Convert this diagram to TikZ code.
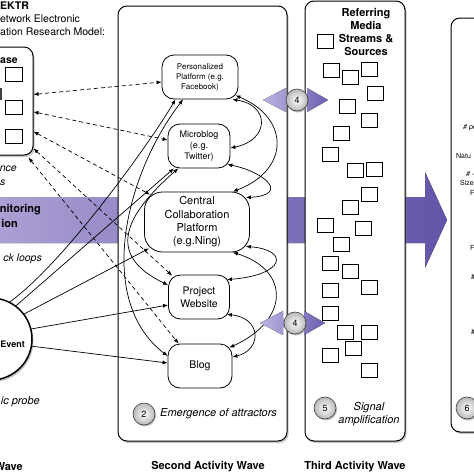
\documentclass[tikz,border=0pt]{standalone}
\usepackage{fontspec}
\setmainfont{TeX Gyre Heros}
\usetikzlibrary{
    arrows.meta,
    calc,
    shadows
}
\definecolor{bandlight}{RGB}{172,160,212}
\definecolor{banddark}{RGB}{98,84,168}
\definecolor{arrowlight}{RGB}{190,180,225}
\definecolor{arrowdark}{RGB}{108,94,176}

\begin{document}
\begin{tikzpicture}[x=1pt, y=-1pt,
        wavebox/.style={draw, line width=1pt, rounded corners=9pt, fill=white, drop shadow={shadow xshift=1.5pt, shadow yshift=-2pt, opacity=0.45}},
        att/.style={draw, line width=0.8pt, rounded corners=12pt, fill=white, align=center, inner sep=2pt},
        sq/.style={draw, line width=0.7pt, fill=white, minimum width=16pt, minimum height=14pt, inner sep=0pt},
        num/.style={circle, draw=black!75, line width=0.6pt, inner color=white, outer color=black!28, minimum size=22pt, inner sep=0pt, font=\fontsize{9}{9}\selectfont, drop shadow={shadow xshift=1pt, shadow yshift=-1.5pt, opacity=0.5}},
        lbl/.style={inner sep=0pt, font=\fontsize{10.5}{13}\selectfont},
        arrow/.style={-{Latex[length=5pt,width=4pt]}, line width=0.7pt},
        twoway/.style={{Latex[length=5pt,width=4pt]}-{Latex[length=5pt,width=4pt]}, line width=0.7pt},
        probe/.style={twoway, dash pattern=on 4pt off 3pt}
    ]
        \useasboundingbox (0,0) rectangle (474,474);

        % monitoring band
        \fill[left color=bandlight, right color=banddark] (-5,197) -- (425,197) -- (425,172) -- (447,220) -- (425,268) -- (425,243) -- (-5,243) -- cycle;
        \node[lbl, anchor=east, font=\bfseries\fontsize{11}{13}\selectfont] (bandtxt1) at (41,210) {nitoring};
        \node[lbl, anchor=east, font=\bfseries\fontsize{11}{13}\selectfont] (bandtxt2) at (18,223) {ion};

        % title
        \node[lbl, anchor=west, font=\bfseries\fontsize{10.5}{13}\selectfont] (title1) at (0,6) {EKTR};
        \node[lbl, anchor=west] (title2) at (0,18.5) {etwork Electronic};
        \node[lbl, anchor=west] (title3) at (0,32) {ation Research Model:};

        % wave boxes
        \node[wavebox, minimum width=53pt, minimum height=108pt] (lbox) at (6.5,101) {};
        \node[wavebox, minimum width=169pt, minimum height=435pt] (second) at (202.5,223.5) {};
        \node[wavebox, minimum width=100pt, minimum height=440pt] (third) at (355,221) {};
        \node[wavebox, minimum width=39pt, minimum height=414pt] (sixth) at (470.5,225) {};

        % first wave (cut off)
        \node[lbl, anchor=west, font=\bfseries\fontsize{10.5}{13}\selectfont] (lboxtxt) at (0,61) {ase};
        \fill[black!75] (-5,88) rectangle (2,100);
        \node[sq, minimum width=17pt] (lsq1) at (13.5,74) {};
        \node[sq, minimum width=17pt] (lsq2) at (13.5,107) {};
        \node[sq, minimum width=17pt] (lsq3) at (13.5,136) {};
        \node[lbl, anchor=east, font=\itshape\fontsize{10.5}{13}\selectfont] (inftxt1) at (17,169) {ence};
        \node[lbl, anchor=east, font=\itshape\fontsize{10.5}{13}\selectfont] (inftxt2) at (5.5,183) {s};
        \node[lbl, anchor=east, font=\itshape\fontsize{10.5}{13}\selectfont] (looptxt) at (42,259) {ck loops};
        \node[lbl, anchor=east, font=\itshape\fontsize{11}{13}\selectfont] (probetxt) at (40,402) {ic probe};
        \node[circle, draw, line width=1.5pt, fill=white, minimum size=82pt, drop shadow={shadow xshift=1.5pt, shadow yshift=-2pt, opacity=0.45}] (event) at (-9,339) {};
        \node[lbl, anchor=east, font=\bfseries\fontsize{9}{9}\selectfont] (eventtxt) at (25,344) {Event};

        % attractors
        \node[att, minimum width=76pt, minimum height=44pt, font=\fontsize{8}{10}\selectfont] (pers) at (200,77) {Personalized\\Platform (e.g.\\Facebook)};
        \node[att, minimum width=62pt, minimum height=44pt, font=\fontsize{9}{11}\selectfont] (micro) at (199,146) {Microblog\\(e.g.\\Twitter)};
        \node[att, rounded corners=18pt, minimum width=105pt, minimum height=60pt, font=\fontsize{11}{13.3}\selectfont] (central) at (197,222) {Central\\Collaboration\\Platform\\(e.g.Ning)};
        \node[att, minimum width=61pt, minimum height=44pt, font=\fontsize{10.5}{13}\selectfont] (proj) at (199,297) {Project\\Website};
        \node[att, minimum width=64pt, minimum height=44pt, font=\fontsize{10.5}{13}\selectfont] (blog) at (200,366) {Blog};

        % referring media
        \node[align=center, font=\bfseries\fontsize{11}{12.7}\selectfont] (refer) at (366,32) {Referring\\Media\\Streams \&\\Sources};
        \foreach \x/\y [count=\i] in {325/41, 331/70, 350/77, 369/69, 375/93, 347/106, 369/120, 341/133, 330/154, 355/170, 374/169, 369/194, 350/207, 325/225, 363/228, 341/244, 330/263, 350/271, 369/287, 330/290, 330/313, 345/332, 369/332, 353/348, 330/355, 369/370}
            \node[sq] (src\i) at (\x,\y) {};

        % outcome box (cut off)
        \node[lbl, anchor=west, font=\itshape\fontsize{7}{8}\selectfont] (out1) at (463,128) {\# pe};
        \node[lbl, anchor=west, font=\fontsize{7}{8}\selectfont] (out2) at (456,156) {Natu};
        \node[lbl, anchor=west, font=\itshape\fontsize{7}{8}\selectfont] (out3) at (466,174) {\# -};
        \node[lbl, anchor=west, font=\fontsize{7}{8}\selectfont] (out4) at (460,183) {Size-};
        \node[lbl, anchor=west, font=\fontsize{7}{8}\selectfont] (out5) at (470,193) {F};
        \node[lbl, anchor=west, font=\fontsize{7}{8}\selectfont] (out6) at (470,248) {F};
        \node[lbl, anchor=west, font=\fontsize{7}{8}\selectfont] (out7) at (471,277) {\#};
        \node[lbl, anchor=west, font=\fontsize{7}{8}\selectfont] (out8) at (471,332) {\#};

        % probes from first wave
        \coordinate (p1) at ($(lbox.north east)!0.44!(lbox.south east)$);
        \coordinate (p2) at ($(lbox.north east)!0.60!(lbox.south east)$);
        \coordinate (p3) at ($(lbox.north east)!0.78!(lbox.south east)$);
        \coordinate (p4) at ($(lbox.north east)!0.935!(lbox.south east)$);
        \coordinate (p5) at ($(lbox.south east)+(-5,2)$);
        \draw[probe] (p1) -- ([yshift=-5pt]pers.west);
        \draw[probe] (p2) -- ([yshift=6pt]micro.west);
        \draw[probe] (p3) -- ($(central.north west)+(6,3)$);
        \draw[probe] (p4) -- ($(proj.north west)+(4,1)$);
        \draw[probe] (p5) -- ($(blog.north west)+(11,0)$);

        % event to attractors
        \draw[arrow] (event.63) .. controls (65,262) and (152,140) .. ($(pers.south west)!0.18!(pers.south east)$);
        \draw[arrow] (event.53) -- ($(micro.south west)!0.1!(micro.south east)$);
        \draw[arrow] (event.37) -- ($(central.south west)+(5,-4)$);
        \draw[arrow] (event.14) -- ([yshift=-8pt]proj.west);
        \draw[arrow] (event.-10) -- ([yshift=3pt]blog.west);

        % links between attractors, left side
        \draw[twoway] ($(micro.south west)!0.17!(micro.south east)$) .. controls (125,215) and (105,255) .. ([yshift=12pt]proj.west);
        \draw[twoway] ($(pers.south west)!0.28!(pers.south east)$) .. controls (125,175) and (95,300) .. ([yshift=10pt]blog.west);

        % links between attractors, right side
        \draw[twoway] ($(pers.south east)+(-6,0)$) .. controls (270,105) and (270,140) .. ([yshift=-2pt]micro.east);
        \draw[twoway] ($(pers.south east)+(-3,-4)$) .. controls (290,118) and (290,170) .. ($(central.north east)+(-17,0)$);
        \draw[twoway] ($(micro.south east)+(-3,-4)$) .. controls (265,172) and (290,195) .. ($(central.north east)+(-4,6)$);
        \draw[twoway] ($(central.south east)+(-4,-6)$) .. controls (290,250) and (285,275) .. ($(proj.north east)+(-3,5)$);
        \draw[twoway] ($(central.south east)+(-17,0)$) .. controls (290,270) and (290,320) .. ($(blog.north east)+(-3,4)$);
        \draw[twoway] ($(proj.south east)+(-3,-5)$) .. controls (262,318) and (262,350) .. ([yshift=9pt]blog.east);

        % exchange between second and third wave
        \fill[left color=arrowlight, right color=arrowdark] (263,100) -- (286,88) -- (286,96) -- (307,96) -- (307,88) -- (328,100) -- (307,112) -- (307,104) -- (286,104) -- (286,112) -- cycle;
        \fill[left color=arrowlight, right color=arrowdark] (260,323) -- (283,311) -- (283,319) -- (304,319) -- (304,311) -- (325,323) -- (304,335) -- (304,327) -- (283,327) -- (283,335) -- cycle;
        \node[num] (n4a) at (297,100) {4};
        \node[num] (n4b) at (295,323) {4};

        % stage labels
        \node[num] (n2) at (144,414) {2};
        \node[lbl, anchor=west, font=\itshape\fontsize{11}{13}\selectfont] (emerg) at (160,414) {Emergence of attractors};
        \node[num] (n5) at (325,408) {5};
        \node[align=center, inner sep=0pt, font=\itshape\fontsize{11}{13}\selectfont] (signal) at (369,414.5) {Signal\\amplification};
        \node[num] (n6) at (467,408) {6};

        \node[lbl, anchor=east, font=\bfseries\fontsize{11}{13}\selectfont] (wave1) at (23,467) {Wave};
        \node[lbl, font=\bfseries\fontsize{11}{13}\selectfont] (wave2) at (208,467) {Second Activity Wave};
        \node[lbl, font=\bfseries\fontsize{11}{13}\selectfont] (wave3) at (355,467) {Third Activity Wave};
    \end{tikzpicture}
\end{document}
